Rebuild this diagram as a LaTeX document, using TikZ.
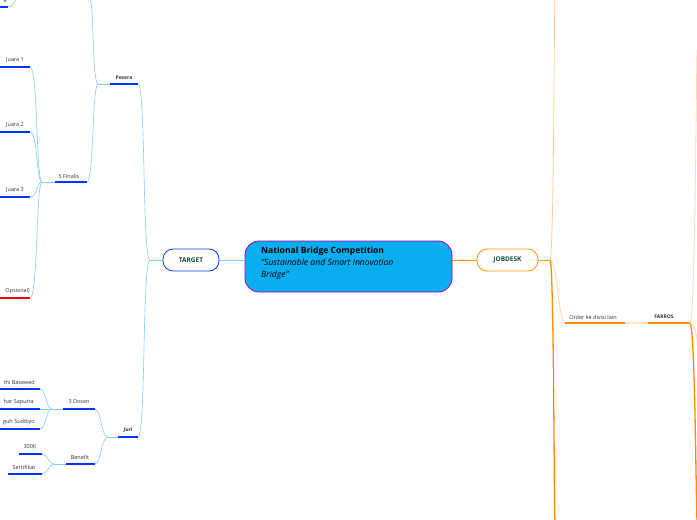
\documentclass[tikz,border=0pt]{standalone}
\usepackage{fontspec}
\setmainfont{Open Sans}
\begin{document}
\begin{tikzpicture}[x=1pt,y=-1pt,
  lbl/.style={inner sep=0pt,font=\fontsize{5.5}{6}\selectfont,text=black!80},
  bl/.style={draw=blue!40!cyan!50!white,line width=0.6pt},
  ul/.style={draw=blue!80!cyan,line width=1.3pt},
  ol/.style={draw=orange!80!yellow,line width=0.6pt},
  oul/.style={draw=orange!90!yellow,line width=1.3pt}]
\useasboundingbox (0,0) rectangle (697,520);
\definecolor{cen}{HTML}{08AEEF}
\definecolor{tg}{HTML}{0D4D3A}
% central
\node (c) [draw=violet!70!magenta,fill=cen,line width=0.8pt,rounded corners=14pt,minimum width=207pt,minimum height=51pt] at (348.5,266.5) {};
\node (ct) [anchor=north west,align=left,inner sep=0pt,font=\fontsize{8.6}{12}\selectfont] at (261,247) {\textbf{National Bridge Competition}\\\textit{"Sustainable and Smart Innovation}\\\textit{Bridge"}};
\node (tgt) [draw=blue!75!cyan,fill=white,line width=0.8pt,rounded corners=10pt,minimum width=56pt,minimum height=22pt,font=\bfseries\fontsize{6.5}{7}\selectfont,text=tg] at (191,260) {TARGET};
\node (job) [draw=orange!85!yellow,fill=white,line width=0.8pt,rounded corners=10pt,minimum width=61pt,minimum height=22pt,font=\bfseries\fontsize{6.5}{7}\selectfont,text=tg] at (507.5,260) {JOBDESK};
\draw[bl] (c.west|-tgt.east) -- (tgt.east);
\draw[ol] (c.east|-job.west) -- (job.west);
% left coordinates
\coordinate (tl) at (150,260);
\draw[bl] (tgt.west) -- (tl);
\node (pes) [lbl,font=\bfseries\fontsize{5}{6}\selectfont] at (124,78) {Pesera};
\draw[ul] (110,84) -- (138,84);
\draw[bl] (tl) .. controls (142,258) and (146,86) .. (138,84);
\draw[bl] (110,84) -- (98,84);
\draw[bl] (98,84) .. controls (92,82) and (94,2) .. (90,0);
\node (fin) [lbl] at (69,176) {5 Finalis};
\draw[ul] (55,182) -- (87,182);
\draw[bl] (87,182) .. controls (94,180) and (92,86) .. (98,84);
\draw[bl] (42,182) -- (55,182);
\draw[ul] (0,67) -- (30,67); \node (j1) [lbl] at (15,60) {Juara 1};
\draw[ul] (0,132) -- (30,132); \node (j2) [lbl] at (15,125) {Juara 2};
\draw[ul] (0,197) -- (30,197); \node (j3) [lbl] at (15,190) {Juara 3};
\draw[draw=red!80!purple,line width=1.3pt] (0,298) -- (30,298); \node (op) [lbl,anchor=east] at (30,291) {Opsional)};
\foreach \y in {67,132,197,298} \draw[bl] (42,182) .. controls (36,182) and (38,\y) .. (30,\y);
\draw[ul] (0,7) -- (8,7); \node (a) [lbl,anchor=north east] at (7,-1) {a};
\draw[bl] (8,7) .. controls (14,6) and (14,2) .. (16,0);
% Juri
\node (juri) [lbl,font=\bfseries\fontsize{5}{6}\selectfont] at (128,430) {Juri};
\draw[ul] (118,437) -- (138,437);
\draw[bl] (tl) .. controls (142,262) and (146,435) .. (138,437);
\draw[bl] (108,437) -- (118,437);
\node (ds) [lbl] at (79,402) {3 Dosen};
\draw[ul] (63,409) -- (95,409);
\node (bn) [lbl] at (80,457) {Benefit};
\draw[ul] (66,464) -- (95,464);
\draw[bl] (108,437) .. controls (100,435) and (102,411) .. (95,409);
\draw[bl] (108,437) .. controls (100,439) and (102,462) .. (95,464);
\draw[bl] (52,409) -- (63,409);
\draw[bl] (54,464) -- (66,464);
\draw[ul] (0,389) -- (40,389); \node (d1) [lbl,anchor=east] at (35,382) {thi Basewed};
\draw[ul] (0,409) -- (40,409); \node (d2) [lbl,anchor=east] at (34,402) {har Saputra};
\draw[ul] (0,429) -- (40,429); \node (d3) [lbl,anchor=east] at (35,422) {guh Sudibyo};
\foreach \y in {389,409,429} \draw[bl] (52,409) .. controls (46,409) and (46,\y) .. (40,\y);
\draw[ul] (19,454) -- (42,454); \node (b1) [lbl] at (30,447) {300K};
\draw[ul] (8,474) -- (42,474); \node (b2) [lbl] at (24,467) {Sertifikat};
\foreach \y in {454,474} \draw[bl] (54,464) .. controls (48,464) and (48,\y) .. (42,\y);
% right
\coordinate (jr) at (550,260);
\draw[ol] (job.east) -- (jr);
\draw[draw=orange!40!white,line width=0.8pt] (jr) .. controls (554,258) and (554,2) .. (555,0);
\draw[oul] (jr) .. controls (554,262) and (554,518) .. (555,520);
\node (ord) [lbl] at (593,317) {Order ke divisi lain};
\draw[oul] (565,323) -- (625,323);
\draw[draw=orange!20!white,line width=1.3pt] (625,323) -- (648,323);
\draw[draw=orange!40!white,line width=0.6pt] (jr) .. controls (558,262) and (558,321) .. (565,323);
\node (far) [lbl,font=\bfseries\fontsize{5}{6}\selectfont] at (664,317) {FARROS};
\draw[oul] (648,323) -- (690,323);
\draw[draw=orange!30!white,line width=0.8pt] (690,323) .. controls (695,320) and (696,100) .. (697,50);
\draw[oul] (690,323) .. controls (695,326) and (696,500) .. (697,520);
\draw[draw=orange!30!white,line width=0.6pt] (690,323) .. controls (697,326) and (697,340) .. (697,345);
\end{tikzpicture}
\end{document}
